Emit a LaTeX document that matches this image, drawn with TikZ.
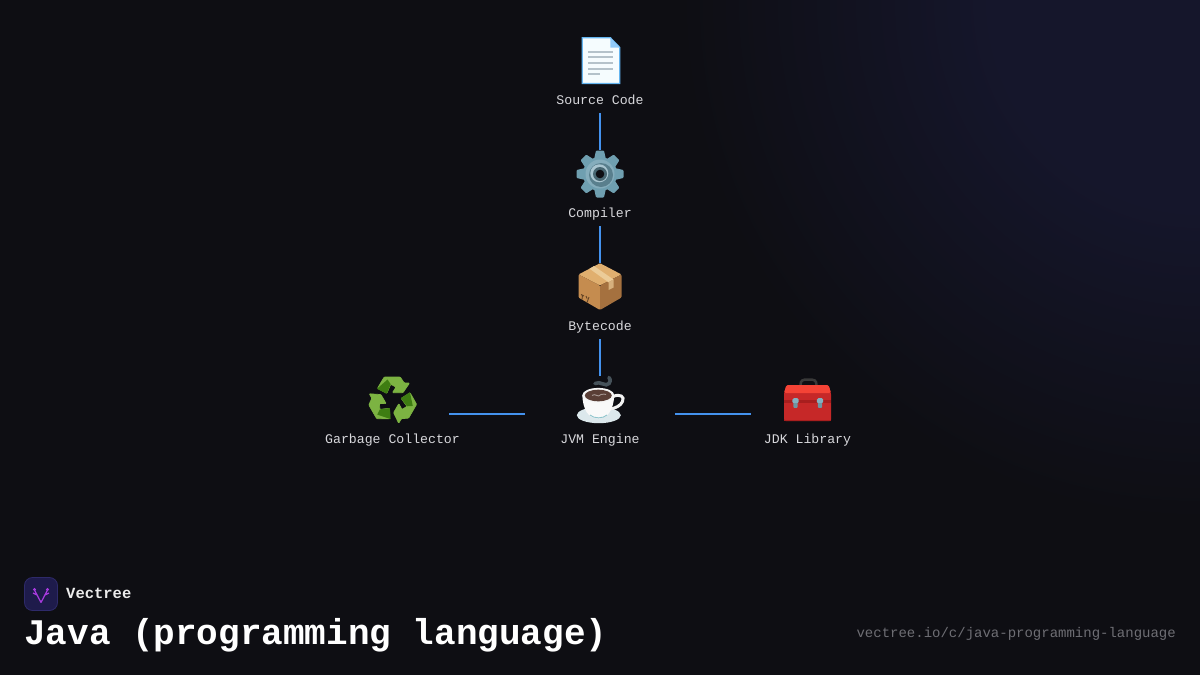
\documentclass[tikz,border=0pt]{standalone}
\usepackage{fontspec}
\setmonofont{Liberation Mono}
\usepackage{tikz}
\definecolor{bgcol}{HTML}{0E0E13}
\definecolor{glowcol}{HTML}{15162B}
\definecolor{linkcol}{HTML}{4492EE}
\definecolor{labelcol}{HTML}{D8D8DC}
\definecolor{urlcol}{HTML}{6E6E74}
\definecolor{logoedge}{HTML}{2E2A6A}
\definecolor{logofill}{HTML}{1E1B4B}
\definecolor{logomark}{HTML}{A83ADF}
\pgfdeclareradialshading{cornerglow}{\pgfpointorigin}{color(0bp)=(glowcol); color(10bp)=(glowcol); color(25bp)=(bgcol); color(50bp)=(bgcol)}
\tikzset{every node/.style={draw=none,inner sep=0pt}}
\tikzset{stage/.style={rectangle,minimum width=150pt,minimum height=76pt}}
\tikzset{sidestage/.style={rectangle,minimum width=113pt,minimum height=76pt}}
\tikzset{lbl/.style={anchor=base,font=\ttfamily\fontsize{13.2}{15}\selectfont,text=labelcol}}
\tikzset{link/.style={draw=linkcol,line width=2pt}}
% icons, one unit is one pixel of the reference
\definecolor{docedge}{HTML}{64B5F0}
\definecolor{docfold}{HTML}{90CAF9}
\definecolor{docline}{HTML}{B4C2CA}
\tikzset{docicon/.pic={
  \draw[draw=docedge,line width=1.3pt,fill=white!96!cyan] (-18.5,-22.8) -- (9.5,-22.8) -- (19,-13) -- (19,23) -- (-18.5,23) -- cycle;
  \fill[fill=docfold] (9.5,-22.8) -- (19,-13) -- (9.5,-13) -- cycle;
  \foreach \ly/\lx in {-8.8/12,-3.2/12,2.5/12,8.2/12,13.8/-1.2}
    \draw[draw=docline,line width=1.8pt] (-12.5,\ly) -- (\lx,\ly);
}}
\definecolor{gearcol}{HTML}{6F9FB0}
\tikzset{gearicon/.pic={
  \foreach \a in {0,45,...,315}
    \fill[fill=gearcol,rotate=\a,rounded corners=1pt] (-6.5,-12) -- (-4,-23.5) -- (4,-23.5) -- (6.5,-12) -- cycle;
  \fill[fill=gearcol] (0,0) circle (17);
  \fill[fill=gearcol!85!white] (0,0) circle (14.5);
  \fill[fill=gearcol!80!black] (1,1) circle (12);
  \fill[fill=gearcol!60!white] (-0.7,-0.7) circle (9);
  \fill[fill=gearcol!65!black] (0,0) circle (7);
  \fill[fill=bgcol] (0,0) circle (4.3);
}}
\definecolor{boxtop}{HTML}{E0AF6F}
\definecolor{boxleft}{HTML}{C58C4F}
\definecolor{boxright}{HTML}{A5713F}
\definecolor{boxtape}{HTML}{EBCB98}
\tikzset{boxicon/.pic={
  \fill[fill=boxtop,rounded corners=1pt] (0,-23.3) -- (21.5,-12) -- (0,-1) -- (-21.5,-12) -- cycle;
  \fill[fill=boxleft,rounded corners=1pt] (-21.5,-12) -- (0,-1) -- (0,23.5) -- (-21.5,11) -- cycle;
  \fill[fill=boxright,rounded corners=1pt] (21.5,-12) -- (0,-1) -- (0,23.5) -- (21.5,11) -- cycle;
  \fill[fill=boxtape] (-10.5,-17.8) -- (-6,-20.5) -- (13.5,-7) -- (8.5,-4.2) -- cycle;
  \fill[fill=boxtape!70!boxright] (8.5,-4.2) -- (13.5,-7) -- (13.5,1) -- (8.5,3.5) -- cycle;
  \draw[draw=boxright!60!black,line width=0.9pt] (-19,8) -- (-16,9.5) (-17.5,9) -- (-18,13) (-14,9.5) -- (-13,12) (-11,10.5) -- (-13,16);
}}
\definecolor{cupline}{HTML}{8FC4CC}
\definecolor{cofcol}{HTML}{5A3E36}
\definecolor{steamcol}{HTML}{46525A}
\definecolor{saucercol}{HTML}{DCE8EC}
\tikzset{cupicon/.pic={
  \draw[draw=steamcol,line width=3.6pt,line cap=round] (-5,-16) .. controls (0,-19) and (6,-12) .. (9,-16) .. controls (11,-19) and (10,-21) .. (9,-22);
  \fill[fill=saucercol] (-1.2,15.7) ellipse (22 and 8);
  \draw[draw=white!90!gray,line width=3pt] (13,-3) .. controls (20,-6) and (25,-3) .. (22.5,2) .. controls (21,6) and (15,9) .. (10,9.5);
  \fill[fill=white!95!gray] (-17.7,-4.3) .. controls (-17,10) and (-12,19) .. (-1.7,19) .. controls (8,19) and (13.5,10) .. (14.3,-4.3) -- cycle;
  \draw[draw=cupline,line width=0.9pt] (-10,15.5) .. controls (-6,19.3) and (3,19.3) .. (7,15.5);
  \fill[fill=white!92!gray] (-1.7,-4.3) ellipse (16 and 7.3);
  \fill[fill=cofcol] (-1.7,-4) ellipse (13.5 and 5.8);
  \draw[draw=cofcol!55!white,line width=0.9pt] (-8,-4) .. controls (-5,-7) and (-2,-1) .. (1,-5) .. controls (3,-7) and (5,-4) .. (6,-5);
}}
\definecolor{reclight}{HTML}{7CB342}
\definecolor{recdark}{HTML}{3E7D12}
\tikzset{recycleicon/.pic={
  \foreach \a in {0,120,240}{
    \filldraw[fill=reclight,draw=reclight,line width=0.7pt,rounded corners=0.8pt,rotate=\a] (-15,-11.7) -- (-8.3,-23) -- (7.7,-23) -- (11.7,-17) -- (17,-17) -- (10.5,-7.3) -- (0,-7.3) -- (3.5,-13) -- (-1.8,-15.7) -- (-5.7,-6.7) -- cycle;
    \fill[fill=recdark,rotate=\a] (-15.5,-11.2) -- (-5,-20.5) -- (-1.8,-15.7) -- (-5.7,-6.3) -- cycle;
  }
}}
\definecolor{chestmid}{HTML}{C62828}
\definecolor{chesthi}{HTML}{F44336}
\definecolor{chestlow}{HTML}{A81E1E}
\definecolor{latchcol}{HTML}{82B0C0}
\tikzset{chesticon/.pic={
  \draw[draw=gray!45!black,line width=2.5pt] (-7,-14.5) .. controls (-7,-20) and (-5,-20.5) .. (0.8,-20.5) .. controls (7,-20.5) and (9,-20) .. (9,-14.5);
  \fill[fill=chestmid,rounded corners=1.5pt] (-21,-15) -- (21,-15) -- (23.5,-7) -- (23.5,21) -- (-23.5,21) -- (-23.5,-7) -- cycle;
  \fill[fill=chesthi,rounded corners=1.5pt] (-21,-15) -- (21,-15) -- (23.5,-7) -- (-23.5,-7) -- cycle;
  \fill[fill=chestlow] (-23.5,0) rectangle (23.5,2.8);
  \fill[fill=chestlow] (-23.5,19.8) rectangle (23.5,21);
  \foreach \lx in {-12,12.5}{
    \fill[fill=latchcol,rounded corners=1.5pt] (\lx-3.2,-1.8) rectangle (\lx+3.2,3.5);
    \fill[fill=latchcol!85!black,rounded corners=0.8pt] (\lx-2.2,3) rectangle (\lx+2.2,7.8);
  }
}}
\begin{document}
\begin{tikzpicture}[x=1pt,y=-1pt]
      \useasboundingbox (0,0) rectangle (1200,675);
      \fill[fill=bgcol] (0,0) rectangle (1200,675);
      \begin{scope}
        \clip (0,0) rectangle (1200,675);
        \shade[shading=cornerglow] (1200,0) circle (520);
      \end{scope}
      \node[stage] (source) at (600,75) {};
      \node[stage] (compiler) at (600,188) {};
      \node[stage] (bytecode) at (600,301) {};
      \node[stage] (jvm) at (600,414) {};
      \node[sidestage] (gc) at (392.5,414) {};
      \node[sidestage] (jdk) at (807.5,414) {};
        \draw[link] (source) -- (compiler);
        \draw[link] (compiler) -- (bytecode);
        \draw[link] (bytecode) -- (jvm);
        \draw[link] (gc) -- (jvm);
        \draw[link] (jvm) -- (jdk);
      \pic at (600.8,60.5) {docicon};
      \pic at (600,174) {gearicon};
      \pic at (600,286.5) {boxicon};
      \pic at (600,399.5) {cupicon};
      \pic at (392.5,400) {recycleicon};
      \pic at (807.5,400) {chesticon};
      \node[lbl] (sourcelbl) at (600,104) {Source Code};
      \node[lbl] (compilerlbl) at (600,217) {Compiler};
      \node[lbl] (bytecodelbl) at (600,330) {Bytecode};
      \node[lbl] (jvmlbl) at (600,443) {JVM Engine};
      \node[lbl] (gclbl) at (392.5,443) {Garbage Collector};
      \node[lbl] (jdklbl) at (807.5,443) {JDK Library};
      % footer
      \node[rectangle,rounded corners=8pt,draw=logoedge,line width=0.8pt,fill=logofill,minimum size=33pt] (logo) at (41,594) {};
      \draw[draw=logomark,line width=1.2pt] (41,602.5) -- (34.5,590) (41,602.5) -- (47.5,590) (33,593) -- (37,595) (49,593) -- (45,595);
      \fill[fill=logomark] (34.5,589.5) circle (1.7) (47.5,589.5) circle (1.7);
      \node[anchor=base west,font=\ttfamily\bfseries\fontsize{15.5}{18}\selectfont,text=white!92!black] (brand) at (66,598) {Vectree};
      \node[anchor=base west,font=\ttfamily\bfseries\fontsize{36}{40}\selectfont,text=white] (title) at (24,644) {Java (programming language)};
      \node[anchor=base east,font=\ttfamily\fontsize{14}{16}\selectfont,text=urlcol] (url) at (1176,637) {vectree.io/c/java-programming-language};
    \end{tikzpicture}
\end{document}
